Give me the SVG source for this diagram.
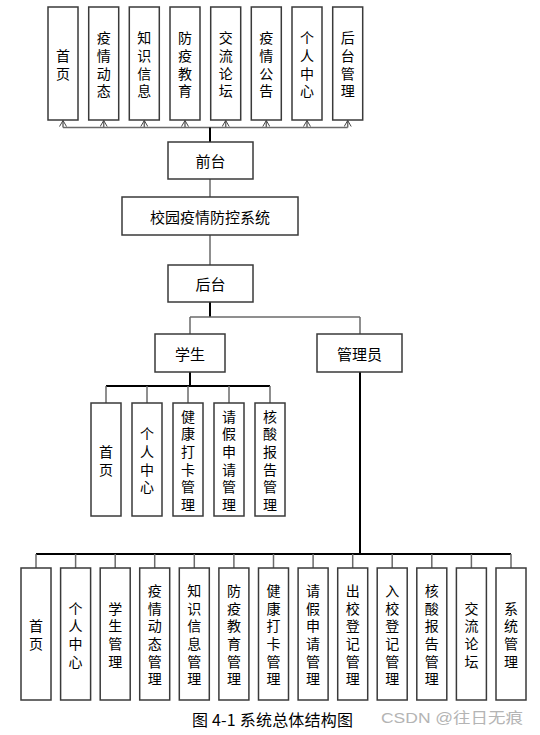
<svg xmlns="http://www.w3.org/2000/svg" width="540" height="735" viewBox="0 0 540 735">
<style>
.box{fill:#fff;stroke:#3a3a3a;stroke-width:1.5}
.vt{font-family:"Liberation Sans","Noto Sans CJK SC",sans-serif;font-size:14px;fill:#000;text-anchor:middle;dominant-baseline:central}
.ht{font-family:"Noto Sans CJK SC","Liberation Sans",sans-serif;font-size:15px;fill:#000;text-anchor:middle;dominant-baseline:central}
.ln{stroke:#6a6a6a;stroke-width:1.5;fill:none}
.tk{stroke:#000;stroke-width:2;fill:none}
.cap{font-family:"Noto Sans CJK SC","Liberation Sans",sans-serif;font-size:16px;fill:#000}
.wm{font-family:"Liberation Sans","Noto Sans CJK SC",sans-serif;font-size:15px;fill:#b4b4b4}
</style>
<defs>
<marker id="arr" viewBox="0 0 8 8" refX="7" refY="4" markerWidth="8" markerHeight="8" markerUnits="userSpaceOnUse" orient="auto">
<path d="M1,0.5 L7,4 L1,7.5" fill="none" stroke="#444" stroke-width="1"/>
</marker>
</defs>

<g id="connectors">
<line class="ln" x1="63" y1="127.5" x2="347.7" y2="127.5"/>
<line class="ln" x1="63" y1="127.5" x2="63" y2="120.5" marker-end="url(#arr)"/>
<line class="ln" x1="103.7" y1="127.5" x2="103.7" y2="120.5" marker-end="url(#arr)"/>
<line class="ln" x1="144.3" y1="127.5" x2="144.3" y2="120.5" marker-end="url(#arr)"/>
<line class="ln" x1="185" y1="127.5" x2="185" y2="120.5" marker-end="url(#arr)"/>
<line class="ln" x1="225.7" y1="127.5" x2="225.7" y2="120.5" marker-end="url(#arr)"/>
<line class="ln" x1="266.3" y1="127.5" x2="266.3" y2="120.5" marker-end="url(#arr)"/>
<line class="ln" x1="307" y1="127.5" x2="307" y2="120.5" marker-end="url(#arr)"/>
<line class="ln" x1="347.7" y1="127.5" x2="347.7" y2="120.5" marker-end="url(#arr)"/>
<line class="tk" x1="210" y1="127.5" x2="210" y2="142"/>
<line class="ln" x1="210" y1="179" x2="210" y2="197"/>
<line class="ln" x1="210" y1="235" x2="210" y2="265"/>
<line class="tk" x1="210" y1="302" x2="210" y2="317"/>
<line class="ln" x1="190" y1="317" x2="360" y2="317"/>
<line class="ln" x1="190" y1="317" x2="190" y2="334"/>
<line class="ln" x1="360" y1="317" x2="360" y2="334"/>
<line class="tk" x1="190" y1="372" x2="190" y2="386"/>
<line class="tk" x1="106" y1="386" x2="270" y2="386"/>
<line class="ln" x1="106" y1="386" x2="106" y2="403"/>
<line class="ln" x1="147" y1="386" x2="147" y2="403"/>
<line class="ln" x1="188" y1="386" x2="188" y2="403"/>
<line class="ln" x1="229" y1="386" x2="229" y2="403"/>
<line class="ln" x1="270" y1="386" x2="270" y2="403"/>
<line class="tk" x1="360" y1="372" x2="360" y2="554"/>
<line class="tk" x1="36" y1="554" x2="511" y2="554"/>
<line class="ln" x1="36" y1="554" x2="36" y2="568"/>
<line class="ln" x1="75.6" y1="554" x2="75.6" y2="568"/>
<line class="ln" x1="115.2" y1="554" x2="115.2" y2="568"/>
<line class="ln" x1="154.7" y1="554" x2="154.7" y2="568"/>
<line class="ln" x1="194.3" y1="554" x2="194.3" y2="568"/>
<line class="ln" x1="233.9" y1="554" x2="233.9" y2="568"/>
<line class="ln" x1="273.5" y1="554" x2="273.5" y2="568"/>
<line class="ln" x1="313.1" y1="554" x2="313.1" y2="568"/>
<line class="ln" x1="352.7" y1="554" x2="352.7" y2="568"/>
<line class="ln" x1="392.2" y1="554" x2="392.2" y2="568"/>
<line class="ln" x1="431.8" y1="554" x2="431.8" y2="568"/>
<line class="ln" x1="471.4" y1="554" x2="471.4" y2="568"/>
<line class="ln" x1="511" y1="554" x2="511" y2="568"/>
</g>

<g id="f1"><rect class="box" x="48" y="7" width="30" height="113"/><text class="vt"><tspan x="63" y="55.9">首</tspan><tspan x="63" y="73.5">页</tspan></text></g>
<g id="f2"><rect class="box" x="88.7" y="7" width="30" height="113"/><text class="vt"><tspan x="103.7" y="38.3">疫</tspan><tspan x="103.7" y="55.9">情</tspan><tspan x="103.7" y="73.5">动</tspan><tspan x="103.7" y="91.1">态</tspan></text></g>
<g id="f3"><rect class="box" x="129.3" y="7" width="30" height="113"/><text class="vt"><tspan x="144.3" y="38.3">知</tspan><tspan x="144.3" y="55.9">识</tspan><tspan x="144.3" y="73.5">信</tspan><tspan x="144.3" y="91.1">息</tspan></text></g>
<g id="f4"><rect class="box" x="170" y="7" width="30" height="113"/><text class="vt"><tspan x="185" y="38.3">防</tspan><tspan x="185" y="55.9">疫</tspan><tspan x="185" y="73.5">教</tspan><tspan x="185" y="91.1">育</tspan></text></g>
<g id="f5"><rect class="box" x="210.7" y="7" width="30" height="113"/><text class="vt"><tspan x="225.7" y="38.3">交</tspan><tspan x="225.7" y="55.9">流</tspan><tspan x="225.7" y="73.5">论</tspan><tspan x="225.7" y="91.1">坛</tspan></text></g>
<g id="f6"><rect class="box" x="251.3" y="7" width="30" height="113"/><text class="vt"><tspan x="266.3" y="38.3">疫</tspan><tspan x="266.3" y="55.9">情</tspan><tspan x="266.3" y="73.5">公</tspan><tspan x="266.3" y="91.1">告</tspan></text></g>
<g id="f7"><rect class="box" x="292" y="7" width="30" height="113"/><text class="vt"><tspan x="307" y="38.3">个</tspan><tspan x="307" y="55.9">人</tspan><tspan x="307" y="73.5">中</tspan><tspan x="307" y="91.1">心</tspan></text></g>
<g id="f8"><rect class="box" x="332.7" y="7" width="30" height="113"/><text class="vt"><tspan x="347.7" y="38.3">后</tspan><tspan x="347.7" y="55.9">台</tspan><tspan x="347.7" y="73.5">管</tspan><tspan x="347.7" y="91.1">理</tspan></text></g>

<g id="qiantai"><rect class="box" x="168" y="142" width="85" height="37"/><text class="ht" x="210.5" y="160.5">前台</text></g>
<g id="system"><rect class="box" x="122" y="197" width="176" height="38"/><text class="ht" x="210" y="216">校园疫情防控系统</text></g>
<g id="houtai"><rect class="box" x="168" y="265" width="85" height="37"/><text class="ht" x="210.5" y="283.5">后台</text></g>
<g id="student"><rect class="box" x="155" y="334" width="70" height="38"/><text class="ht" x="190" y="353">学生</text></g>
<g id="admin"><rect class="box" x="317" y="334" width="85" height="38"/><text class="ht" x="359.5" y="353">管理员</text></g>

<g id="s1"><rect class="box" x="91" y="403" width="30" height="113"/><text class="vt"><tspan x="106" y="451.9">首</tspan><tspan x="106" y="469.5">页</tspan></text></g>
<g id="s2"><rect class="box" x="132" y="403" width="30" height="113"/><text class="vt"><tspan x="147" y="434.3">个</tspan><tspan x="147" y="451.9">人</tspan><tspan x="147" y="469.5">中</tspan><tspan x="147" y="487.1">心</tspan></text></g>
<g id="s3"><rect class="box" x="173" y="403" width="30" height="113"/><text class="vt"><tspan x="188" y="416.7">健</tspan><tspan x="188" y="434.3">康</tspan><tspan x="188" y="451.9">打</tspan><tspan x="188" y="469.5">卡</tspan><tspan x="188" y="487.1">管</tspan><tspan x="188" y="504.7">理</tspan></text></g>
<g id="s4"><rect class="box" x="214" y="403" width="30" height="113"/><text class="vt"><tspan x="229" y="416.7">请</tspan><tspan x="229" y="434.3">假</tspan><tspan x="229" y="451.9">申</tspan><tspan x="229" y="469.5">请</tspan><tspan x="229" y="487.1">管</tspan><tspan x="229" y="504.7">理</tspan></text></g>
<g id="s5"><rect class="box" x="255" y="403" width="30" height="113"/><text class="vt"><tspan x="270" y="416.7">核</tspan><tspan x="270" y="434.3">酸</tspan><tspan x="270" y="451.9">报</tspan><tspan x="270" y="469.5">告</tspan><tspan x="270" y="487.1">管</tspan><tspan x="270" y="504.7">理</tspan></text></g>

<g id="a1"><rect class="box" x="21" y="568" width="30" height="132"/><text class="vt"><tspan x="36" y="626.4">首</tspan><tspan x="36" y="644">页</tspan></text></g>
<g id="a2"><rect class="box" x="60.6" y="568" width="30" height="132"/><text class="vt"><tspan x="75.6" y="608.8">个</tspan><tspan x="75.6" y="626.4">人</tspan><tspan x="75.6" y="644">中</tspan><tspan x="75.6" y="661.6">心</tspan></text></g>
<g id="a3"><rect class="box" x="100.2" y="568" width="30" height="132"/><text class="vt"><tspan x="115.2" y="608.8">学</tspan><tspan x="115.2" y="626.4">生</tspan><tspan x="115.2" y="644">管</tspan><tspan x="115.2" y="661.6">理</tspan></text></g>
<g id="a4"><rect class="box" x="139.7" y="568" width="30" height="132"/><text class="vt"><tspan x="154.7" y="591.2">疫</tspan><tspan x="154.7" y="608.8">情</tspan><tspan x="154.7" y="626.4">动</tspan><tspan x="154.7" y="644">态</tspan><tspan x="154.7" y="661.6">管</tspan><tspan x="154.7" y="679.2">理</tspan></text></g>
<g id="a5"><rect class="box" x="179.3" y="568" width="30" height="132"/><text class="vt"><tspan x="194.3" y="591.2">知</tspan><tspan x="194.3" y="608.8">识</tspan><tspan x="194.3" y="626.4">信</tspan><tspan x="194.3" y="644">息</tspan><tspan x="194.3" y="661.6">管</tspan><tspan x="194.3" y="679.2">理</tspan></text></g>
<g id="a6"><rect class="box" x="218.9" y="568" width="30" height="132"/><text class="vt"><tspan x="233.9" y="591.2">防</tspan><tspan x="233.9" y="608.8">疫</tspan><tspan x="233.9" y="626.4">教</tspan><tspan x="233.9" y="644">育</tspan><tspan x="233.9" y="661.6">管</tspan><tspan x="233.9" y="679.2">理</tspan></text></g>
<g id="a7"><rect class="box" x="258.5" y="568" width="30" height="132"/><text class="vt"><tspan x="273.5" y="591.2">健</tspan><tspan x="273.5" y="608.8">康</tspan><tspan x="273.5" y="626.4">打</tspan><tspan x="273.5" y="644">卡</tspan><tspan x="273.5" y="661.6">管</tspan><tspan x="273.5" y="679.2">理</tspan></text></g>
<g id="a8"><rect class="box" x="298.1" y="568" width="30" height="132"/><text class="vt"><tspan x="313.1" y="591.2">请</tspan><tspan x="313.1" y="608.8">假</tspan><tspan x="313.1" y="626.4">申</tspan><tspan x="313.1" y="644">请</tspan><tspan x="313.1" y="661.6">管</tspan><tspan x="313.1" y="679.2">理</tspan></text></g>
<g id="a9"><rect class="box" x="337.7" y="568" width="30" height="132"/><text class="vt"><tspan x="352.7" y="591.2">出</tspan><tspan x="352.7" y="608.8">校</tspan><tspan x="352.7" y="626.4">登</tspan><tspan x="352.7" y="644">记</tspan><tspan x="352.7" y="661.6">管</tspan><tspan x="352.7" y="679.2">理</tspan></text></g>
<g id="a10"><rect class="box" x="377.2" y="568" width="30" height="132"/><text class="vt"><tspan x="392.2" y="591.2">入</tspan><tspan x="392.2" y="608.8">校</tspan><tspan x="392.2" y="626.4">登</tspan><tspan x="392.2" y="644">记</tspan><tspan x="392.2" y="661.6">管</tspan><tspan x="392.2" y="679.2">理</tspan></text></g>
<g id="a11"><rect class="box" x="416.8" y="568" width="30" height="132"/><text class="vt"><tspan x="431.8" y="591.2">核</tspan><tspan x="431.8" y="608.8">酸</tspan><tspan x="431.8" y="626.4">报</tspan><tspan x="431.8" y="644">告</tspan><tspan x="431.8" y="661.6">管</tspan><tspan x="431.8" y="679.2">理</tspan></text></g>
<g id="a12"><rect class="box" x="456.4" y="568" width="30" height="132"/><text class="vt"><tspan x="471.4" y="608.8">交</tspan><tspan x="471.4" y="626.4">流</tspan><tspan x="471.4" y="644">论</tspan><tspan x="471.4" y="661.6">坛</tspan></text></g>
<g id="a13"><rect class="box" x="496" y="568" width="30" height="132"/><text class="vt"><tspan x="511" y="608.8">系</tspan><tspan x="511" y="626.4">统</tspan><tspan x="511" y="644">管</tspan><tspan x="511" y="661.6">理</tspan></text></g>

<text class="cap" x="192" y="726" textLength="161" lengthAdjust="spacing">图 4-1 系统总体结构图</text>
<text class="wm" x="381" y="723" textLength="142" lengthAdjust="spacingAndGlyphs">CSDN @往日无痕</text>
</svg>
